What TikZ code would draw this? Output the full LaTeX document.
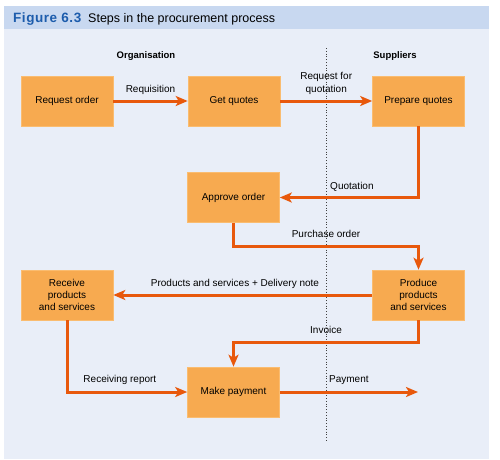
\documentclass[tikz,border=0pt]{standalone}
\usepackage{fontspec}
\setmainfont{Liberation Sans}
\usepackage{tikz}
\usetikzlibrary{arrows.meta,positioning}
\definecolor{panelblue}{RGB}{233,238,248}
\definecolor{headblue}{RGB}{200,216,240}
\definecolor{figblue}{RGB}{28,92,172}
\definecolor{boxorange}{RGB}{247,170,80}
\definecolor{boxedge}{RGB}{250,188,112}
\definecolor{flowred}{RGB}{232,88,12}
\tikzset{
    process/.style={
    rectangle,fill=boxorange,draw=boxedge,line width=0.6pt,
    minimum width=92pt,minimum height=50pt,inner sep=0pt,
    align=center,font=\fontsize{10}{12}\selectfont
    },
    flow/.style={
    draw=flowred,line width=3pt,
    -{Stealth[length=12pt,width=10pt,inset=3pt]}
    },
    lab/.style={
    font=\fontsize{10}{13}\selectfont,text height=7.5pt,text depth=2pt,above=1.5pt
    },
    side/.style={
    font=\fontsize{9.5}{11}\selectfont\bfseries
    },
}

\begin{document}
\begin{tikzpicture}[x=1pt, y=-1pt]
   \useasboundingbox (0,0) rectangle (500,459);
   % panel and heading band
   \fill[panelblue] (4,6) rectangle (489,459);
   \fill[headblue] (4,6) rectangle (489,29);
   \node[anchor=base west,inner sep=0pt,text=figblue,font=\fontsize{13.5}{15}\selectfont\bfseries\addfontfeatures{LetterSpace=4}] (fig) at (13,22) {Figure 6.3};
   \node[anchor=base west,inner sep=0pt,font=\fontsize{12.5}{15}\selectfont] (title) at (88,22) {Steps in the procurement process};

   % two sides
   \node[side] (org) at (146,56.5) {Organisation};
   \node[side] (sup) at (395,56.5) {Suppliers};
   \coordinate (divtop) at (326.5,48);
   \coordinate (divbot) at (326.5,442);
   \draw[dotted,line width=0.8pt,black!75] (divtop) -- (divbot);

   % steps
   \node[process] (ro) at (67,101) {Request order};
   \node[process] (gq) at (234,101) {Get quotes};
   \node[process] (pq) at (418.5,101) {Prepare quotes};
   \node[process] (ao) at (233.5,197.5) {Approve order};
   \node[process] (rp) at (67,295) {Receive\\products\\and services};
   \node[process] (pp) at (418.5,295) {Produce\\products\\and services};
   \node[process] (mp) at (233.5,392) {Make payment};

   \coordinate (po) at (326,246);
   \coordinate (inv) at (326,342);
   \coordinate (pay) at (418,392);

  \path[flow]
    (ro) edge node [lab] {Requisition} (gq)
    (gq) edge node [above=2pt,align=center,font=\fontsize{10}{13}\selectfont] {Request for\\quotation} (pq)
    (pp) edge node [lab,pos=0.53] {Products and services + Delivery note} (rp)
    (mp) edge node [lab,above=3pt] {Payment} (pay);
  \draw[flow] (pq.south) |- node [lab,pos=0.74] {Quotation} (ao.east);
  \draw[flow] (ao.south) |- (po) node [lab] {Purchase order} -| (pp.north);
  \draw[flow] (pp.south) |- (inv) node [lab] {Invoice} -| (mp.north);
  \draw[flow] (rp.south) |- node [lab,above=3pt,pos=0.72] {Receiving report} (mp.west);
  \end{tikzpicture}
\end{document}
